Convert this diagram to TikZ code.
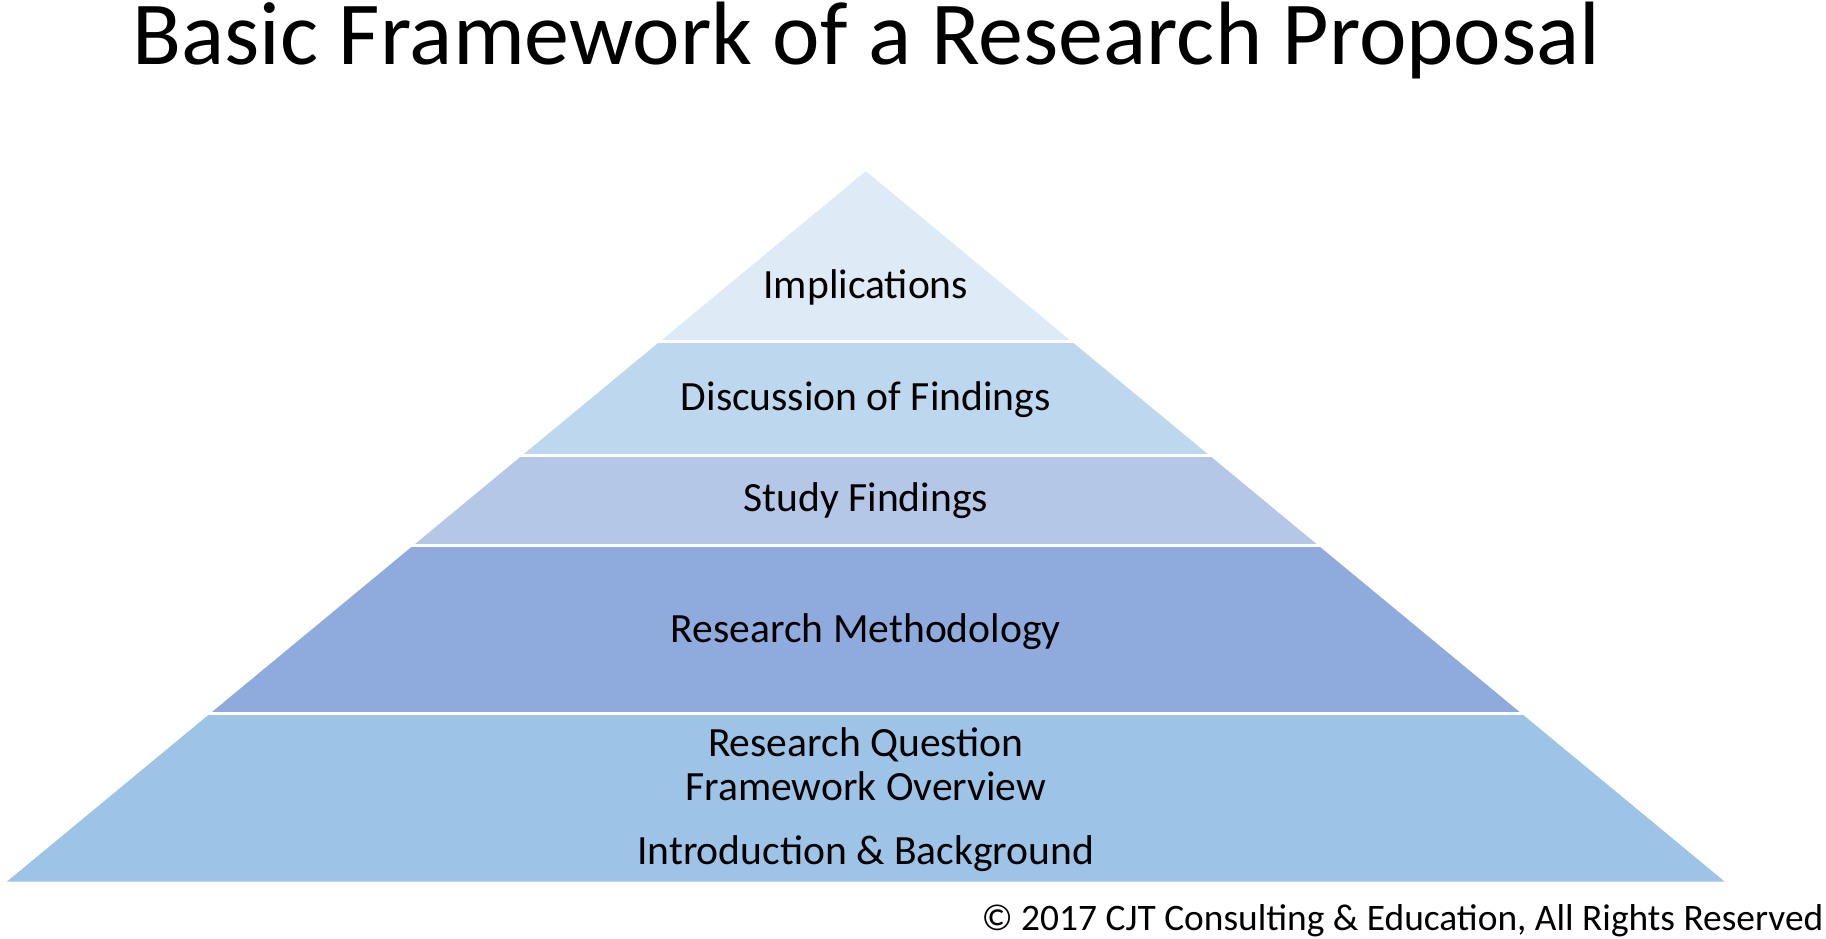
\documentclass[tikz,border=0pt]{standalone}
\usepackage{fontspec}
\setmainfont{Carlito}
\usetikzlibrary{positioning,calc}
\definecolor{tierA}{HTML}{DEEBF7}
\definecolor{tierB}{HTML}{BDD7EE}
\definecolor{tierC}{HTML}{B4C7E7}
\definecolor{tierD}{HTML}{8FAADC}
\definecolor{tierE}{HTML}{9DC3E6}
\begin{document}
\begin{tikzpicture}[x=1pt,y=1pt]
    \tikzstyle{every node}=[inner sep=0,draw=none,align=center]
    \tikzstyle{title}=[font=\fontsize{90}{100}\selectfont]
    \tikzstyle{tier}=[font=\fontsize{41.6}{46}\selectfont]
    \tikzstyle{note}=[font=\fontsize{37.4}{42}\selectfont]
    \tikzstyle{gap}=[draw=white,line width=3]
    \useasboundingbox (0,0) rectangle (1826,-938);
    {
        % pyramid tiers: top / bottom / colour
        \foreach \ya/\yb/\col in {171.2/341.2/tierA,341.2/455.3/tierB,455.3/545.0/tierC,545.0/713.8/tierD,713.8/881.5/tierE} {
            \pgfmathsetmacro\wa{(\ya-171.2)*1.209}
            \pgfmathsetmacro\wb{(\yb-171.2)*1.209}
            \fill[\col] ({865.8-\wa},-\ya) -- ({865.8+\wa},-\ya) -- ({865.8+\wb},-\yb) -- ({865.8-\wb},-\yb) -- cycle;
        }
        \foreach \yb in {341.2,455.3,545.0,713.8} {
            \pgfmathsetmacro\wb{(\yb-171.2)*1.209}
            \draw[gap] ({865.8-\wb-3},-\yb) -- ({865.8+\wb+3},-\yb);
        }

        \node[title,anchor=base] (head) at (866.4,-64.8) {Basic Framework of a Research Proposal};

        \node[tier,anchor=base] (impl) at (865.8,-298) {Implications};
        \node[tier,anchor=base] (disc) at (865.8,-410) {Discussion of Findings};
        \node[tier,anchor=base] (find) at (865.8,-511.7) {Study Findings};
        \node[tier,anchor=base] (meth) at (865.8,-642) {Research Methodology};
        \node[tier,anchor=base] (ques) at (865.8,-756) {Research Question};
        \node[tier,anchor=base] (over) at (865.8,-800.7) {Framework Overview};
        \node[tier,anchor=base] (intro) at (865.8,-864.3) {Introduction \& Background};

        \node[note,anchor=base east] (copy) at (1823.6,-930.7) {© 2017 CJT Consulting \& Education, All Rights Reserved};
    }
\end{tikzpicture}
\end{document}
